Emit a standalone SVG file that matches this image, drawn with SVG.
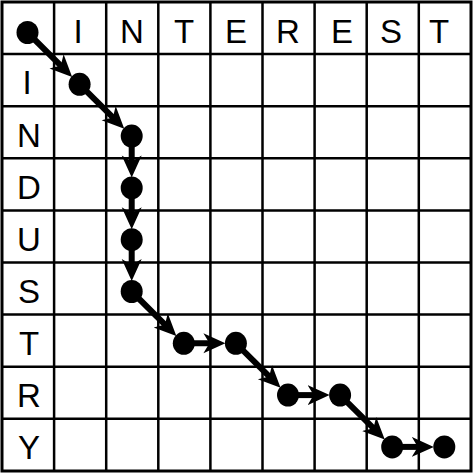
<svg xmlns="http://www.w3.org/2000/svg" width="474" height="474" viewBox="0 0 474 474">
<style>
.g{stroke:#000;stroke-width:2.5;fill:none}
.t{font-family:"Liberation Sans",Arial,sans-serif;font-size:33px;fill:#000;text-anchor:middle}
.d{fill:#000}
.a{stroke:#000;stroke-width:6;fill:none;marker-end:url(#ah)}
</style>
<defs>
<marker id="ah" markerUnits="userSpaceOnUse" markerWidth="24" markerHeight="24" viewBox="0 0 24 24" refX="12" refY="12" orient="auto">
<path d="M22,12 L0,2 L6,12 L0,22 Z" fill="#000"/>
</marker>
</defs>
<rect width="474" height="474" fill="#fff"/>
<g id="grid">
<rect class="g" x="2" y="2" width="469" height="469" style="stroke-width:3"/>
<path class="g" d="M54.1,2V471M106.2,2V471M158.3,2V471M210.4,2V471M262.5,2V471M314.6,2V471M366.7,2V471M418.8,2V471M2,54.1H471M2,106.2H471M2,158.3H471M2,210.4H471M2,262.5H471M2,314.6H471M2,366.7H471M2,418.8H471"/>
</g>
<g id="header-cols">
<text class="t" x="78" y="43">I</text>
<text class="t" x="132" y="43">N</text>
<text class="t" x="184" y="43">T</text>
<text class="t" x="236" y="43">E</text>
<text class="t" x="288" y="43">R</text>
<text class="t" x="342" y="43">E</text>
<text class="t" x="391" y="43">S</text>
<text class="t" x="439" y="43">T</text>
</g>
<g id="header-rows">
<text class="t" x="27" y="94">I</text>
<text class="t" x="29" y="147">N</text>
<text class="t" x="29" y="199">D</text>
<text class="t" x="29" y="251">U</text>
<text class="t" x="29" y="303">S</text>
<text class="t" x="29" y="355">T</text>
<text class="t" x="29" y="407">R</text>
<text class="t" x="29" y="459">Y</text>
</g>
<g id="connectors">
<line class="a" x1="27.5" y1="32.5" x2="65.05" y2="69.85"/>
<line class="a" x1="79.6" y1="84.3" x2="117.15" y2="121.65"/>
<line class="a" x1="131.7" y1="136.1" x2="131.7" y2="167.4"/>
<line class="a" x1="131.7" y1="187.9" x2="131.7" y2="219.2"/>
<line class="a" x1="131.7" y1="239.7" x2="131.7" y2="271"/>
<line class="a" x1="131.7" y1="291.5" x2="169.25" y2="328.85"/>
<line class="a" x1="183.8" y1="343.3" x2="215.4" y2="343.3"/>
<line class="a" x1="235.9" y1="343.3" x2="273.45" y2="380.65"/>
<line class="a" x1="288" y1="395.1" x2="319.6" y2="395.1"/>
<line class="a" x1="340.1" y1="395.1" x2="377.65" y2="432.45"/>
<line class="a" x1="392.2" y1="446.9" x2="423.8" y2="446.9"/>
</g>
<g id="n0"><ellipse class="d" cx="27.5" cy="32.5" rx="11" ry="11.5"/></g>
<g id="n1"><ellipse class="d" cx="79.6" cy="84.3" rx="11" ry="11.5"/></g>
<g id="n2"><ellipse class="d" cx="131.7" cy="136.1" rx="11" ry="11.5"/></g>
<g id="n3"><ellipse class="d" cx="131.7" cy="187.9" rx="11" ry="11.5"/></g>
<g id="n4"><ellipse class="d" cx="131.7" cy="239.7" rx="11" ry="11.5"/></g>
<g id="n5"><ellipse class="d" cx="131.7" cy="291.5" rx="11" ry="11.5"/></g>
<g id="n6"><ellipse class="d" cx="183.8" cy="343.3" rx="11" ry="11.5"/></g>
<g id="n7"><ellipse class="d" cx="235.9" cy="343.3" rx="11" ry="11.5"/></g>
<g id="n8"><ellipse class="d" cx="288" cy="395.1" rx="11" ry="11.5"/></g>
<g id="n9"><ellipse class="d" cx="340.1" cy="395.1" rx="11" ry="11.5"/></g>
<g id="n10"><ellipse class="d" cx="392.2" cy="446.9" rx="11" ry="11.5"/></g>
<g id="n11"><ellipse class="d" cx="444.3" cy="446.9" rx="11" ry="11.5"/></g>
</svg>
